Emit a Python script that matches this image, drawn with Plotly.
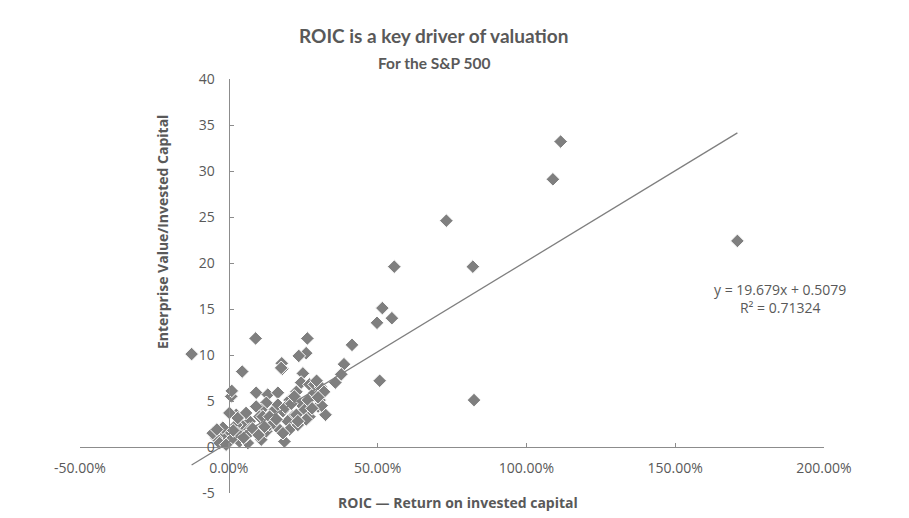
import plotly.graph_objects as go

# ROIC (fraction) and EV / Invested Capital
roic = [
    -0.125, 1.115, 1.089, 0.731, 1.709, 0.556, 0.820, 0.516, 0.548, 0.498,
    0.507, 0.824, 0.414, 0.387, 0.378, 0.358, 0.264, 0.260, 0.235, 0.090,
    0.045, 0.180, 0.178, 0.325, 0.305, 0.300,
    0.176, 0.008, 0.010, 0.092, 0.131, 0.165, 0.249, 0.243, 0.271, 0.288,
    0.227, 0.204, 0.238, 0.255, 0.271, 0.215, 0.182, 0.154, 0.165, 0.126,
    0.143, 0.170, 0.109, 0.092, 0.103, 0.070, 0.047, 0.025, 0.025, 0.030,
    0.070, 0.092, 0.109, 0.126, 0.137, 0.198, 0.204, 0.187, 0.232, 0.227,
    0.260, 0.266, 0.002, -0.026, -0.042, -0.054, -0.020, -0.031, 0.036, 0.064,
    0.008, -0.009, 0.058, 0.288, 0.310, 0.320, 0.295, 0.312, 0.300, 0.002,
    0.030, 0.114, 0.137, 0.232, 0.182, 0.058, 0.080, 0.150, 0.190, 0.210,
    0.120, 0.160, 0.220, 0.280, 0.015, -0.040, 0.050, 0.100,
]
ev_ic = [
    10.1, 33.2, 29.1, 24.6, 22.4, 19.6, 19.6, 15.1, 14.0, 13.5,
    7.2, 5.1, 11.1, 9.0, 7.9, 7.0, 11.8, 10.2, 9.9, 11.8,
    8.2, 8.5, 9.1, 3.5, 5.1, 4.4,
    8.6, 5.5, 6.1, 5.9, 5.7, 5.9, 8.0, 7.0, 6.8, 5.9,
    6.0, 5.1, 4.8, 4.05, 3.3, 3.3, 3.9, 4.05, 4.6, 4.8,
    3.15, 1.9, 4.05, 4.4, 3.3, 2.8, 2.25, 3.5, 2.4, 1.5,
    1.9, 1.7, 0.8, 1.7, 2.4, 2.8, 1.9, 0.6, 2.4, 3.5,
    3.0, 5.1, 1.5, 1.15, 0.98, 1.5, 2.1, 0.43, 0.6, 0.43,
    0.8, 0.25, 3.7, 6.8, 6.5, 6.0, 7.2, 4.5, 5.4, 3.7,
    3.15, 3.3, 3.3, 2.8, 1.5, 1.2, 2.0, 2.6, 4.3, 4.7,
    2.2, 3.0, 5.5, 4.2, 1.8, 1.9, 1.0, 1.3,
]

trend_slope = 19.679
trend_intercept = 0.5079
r_squared = 0.71324

x_ticks = [-0.5, 0.0, 0.5, 1.0, 1.5, 2.0]
y_ticks = [-5, 0, 5, 10, 15, 20, 25, 30, 35, 40]
x_ticktext = [f"{v * 100:.2f}%" for v in x_ticks]
y_ticktext = [str(v) for v in y_ticks]

grey = "#595959"
mark = "#7f7f7f"
axis_col = "#8c8c8c"
font_fam = "Open Sans, Lato, sans-serif"
title_fam = "Lato, Open Sans, sans-serif"

fig = go.Figure()
fig.add_trace(go.Scatter(
    x=roic, y=ev_ic, mode="markers",
    marker=dict(symbol="diamond", size=10.5, color=mark,
                line=dict(color="white", width=1)),
    showlegend=False, hoverinfo="x+y",
))

x0, x1 = min(roic), max(roic)
fig.add_trace(go.Scatter(
    x=[x0, x1],
    y=[trend_slope * x0 + trend_intercept, trend_slope * x1 + trend_intercept],
    mode="lines", line=dict(color="#7f7f7f", width=1.3),
    showlegend=False, hoverinfo="skip",
))

ymin, ymax = -5, 40
xmin, xmax = -0.5, 2.0

fig.update_layout(
    width=909, height=518,
    margin=dict(l=80, r=85, t=79, b=25),
    paper_bgcolor="white", plot_bgcolor="white",
    font=dict(family=font_fam, color=grey, size=13),
    xaxis=dict(
        range=[xmin, xmax], tickvals=x_ticks, ticktext=x_ticktext,
        showgrid=False, zeroline=False, showline=True, linecolor=axis_col,
        linewidth=1.3, ticks="inside", ticklen=4, tickcolor=axis_col,
        anchor="free", position=(0 - ymin) / (ymax - ymin),
        tickfont=dict(size=14, color=grey), ticklabelstandoff=8,
    ),
    yaxis=dict(
        range=[ymin, ymax], tickvals=y_ticks, ticktext=y_ticktext,
        showgrid=False, zeroline=False, showline=True, linecolor=axis_col,
        linewidth=1.3, ticks="inside", ticklen=4, tickcolor=axis_col,
        anchor="free", position=(0 - xmin) / (xmax - xmin),
        tickfont=dict(size=14, color=grey), ticklabelstandoff=11,
    ),
)

ann = [
    dict(text="<b>ROIC is a key driver of valuation</b>", x=0.4745, y=1.104,
         font=dict(size=19, color=grey, family=title_fam)),
    dict(text="<b>For the S&P 500</b>", x=0.476, y=1.0387,
         font=dict(size=15.5, color=grey, family=title_fam)),
    dict(text="<b>ROIC — Return on invested capital</b>", x=0.508, y=-0.024,
         font=dict(size=14, color=grey)),
    dict(text="<b>Enterprise Value/Invested Capital</b>", x=0.110, y=0.630,
         textangle=-90, font=dict(size=14, color=grey)),
]
for a in ann:
    fig.add_annotation(xref="paper", yref="paper", showarrow=False,
                       xanchor="center", yanchor="middle", **a)

fig.add_annotation(
    x=1.852, y=16.15, xref="x", yref="y", showarrow=False,
    text=f"y = {trend_slope}x + {trend_intercept}<br>R² = {r_squared}",
    font=dict(size=14, color=grey), align="center",
)

fig.write_html("out.html")
